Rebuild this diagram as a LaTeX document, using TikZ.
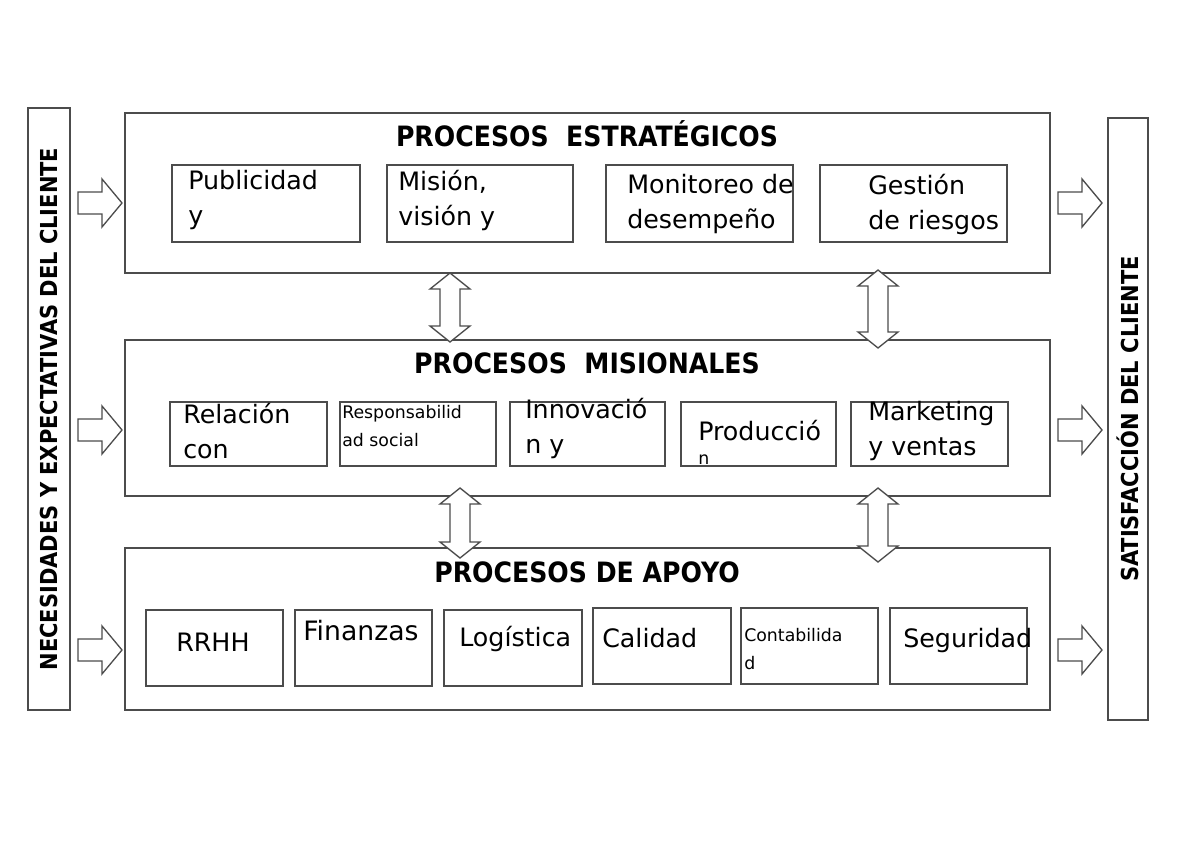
\documentclass[tikz,border=0pt]{standalone}
\usepackage{fontspec}
\setmainfont{DejaVu Sans}
\newfontfamily\titf{DejaVu Sans Condensed}
\begin{document}
\begin{tikzpicture}[x=0.75pt,y=-0.75pt,
  bx/.style={draw=black!70,line width=1.2pt},
  ib/.style={draw=black!70,line width=1.2pt},
  tt/.style={font=\titf\bfseries\fontsize{21}{23}\selectfont},
  sd/.style={font=\titf\bfseries\fontsize{17.5}{19}\selectfont},
  bt/.style={anchor=north west,align=left,inner sep=0pt,font=\fontsize{19}{26}\selectfont},
  st/.style={anchor=north west,align=left,inner sep=0pt,font=\fontsize{13}{21}\selectfont},
  ar/.style={draw=black!70,line width=1pt,fill=white}]
\useasboundingbox (0,0) rectangle (1200,849);
% side bars
\draw[bx] (28,108) rectangle (70,710);
\coordinate (Lc) at (49,409);
\node[rotate=90,sd] (Lt) at (Lc) {NECESIDADES Y EXPECTATIVAS DEL CLIENTE};
\draw[bx] (1108,118) rectangle (1148,720);
\coordinate (Rc) at (1128,419);
\node[rotate=90,sd] (Rt) at (Rc) {SATISFACCIÓN DEL CLIENTE};
% main boxes
\draw[bx] (125,113) rectangle (1050,273);
\draw[bx] (125,340) rectangle (1050,496);
\draw[bx] (125,548) rectangle (1050,710);
\node[tt] (t1) at (587,134) {PROCESOS\ \ ESTRATÉGICOS};
\node[tt] (t2) at (587,363) {PROCESOS\ \ MISIONALES};
\node[tt] (t3) at (587,572) {PROCESOS DE APOYO};
% strategic
\draw[ib] (172,165) rectangle (360,242); \node[bt] (a1) at (188,170) {Publicidad\\y};
\draw[ib] (387,165) rectangle (573,242); \node[bt] (a2) at (398,170) {Misión,\\visión y};
\draw[ib] (606,165) rectangle (793,242); \node[bt] (a3) at (627,174) {Monitoreo de\\desempeño};
\draw[ib] (820,165) rectangle (1007,242); \node[bt] (a4) at (868,174) {Gestión\\de riesgos};
% misional
\draw[ib] (170,402) rectangle (327,466); \node[bt] (b1) at (183,403) {Relación\\con};
\draw[ib] (340,402) rectangle (496,466); \node[st] (b2) at (342,405) {Responsabilid\\ad social};
\draw[ib] (510,402) rectangle (665,466); \node[bt] (b3) at (525,398) {Innovació\\n y};
\draw[ib] (681,402) rectangle (836,466); \node[bt] (b4) at (698,420) {Producció}; \node[st] (b4b) at (698,455) {n};
\draw[ib] (851,402) rectangle (1008,466); \node[bt] (b5) at (868,401) {Marketing\\y ventas};
% apoyo
\draw[ib] (146,610) rectangle (283,686); \node[bt] (c1) at (176,633) {RRHH};
\draw[ib] (295,610) rectangle (432,686); \node[bt,font=\fontsize{20}{22}\selectfont] (c2) at (303,620) {Finanzas};
\draw[ib] (444,610) rectangle (582,686); \node[bt] (c3) at (459,626) {Logística};
\draw[ib] (593,608) rectangle (731,684); \node[bt] (c4) at (602,628) {Calidad};
\draw[ib] (741,608) rectangle (878,684); \node[st] (c5) at (744,628) {Contabilida\\d};
\draw[ib] (890,608) rectangle (1027,684); \node[bt] (c6) at (903,628) {Seguridad};
% right block arrows
\foreach \x/\y in {78/203,78/430,78/650,1058/203,1058/430,1058/650}{
  \draw[ar] (\x,\y-11) -- (\x+24,\y-11) -- (\x+24,\y-24) -- (\x+44,\y) -- (\x+24,\y+24) -- (\x+24,\y+11) -- (\x,\y+11) -- cycle;}
% vertical double arrows
\foreach \x/\ya/\yb in {450/273/342,878/270/348,460/488/558,878/488/562}{
  \draw[ar] (\x,\ya) -- (\x+20,\ya+16) -- (\x+10,\ya+16) -- (\x+10,\yb-16) -- (\x+20,\yb-16) -- (\x,\yb) -- (\x-20,\yb-16) -- (\x-10,\yb-16) -- (\x-10,\ya+16) -- (\x-20,\ya+16) -- cycle;}
\end{tikzpicture}
\end{document}
